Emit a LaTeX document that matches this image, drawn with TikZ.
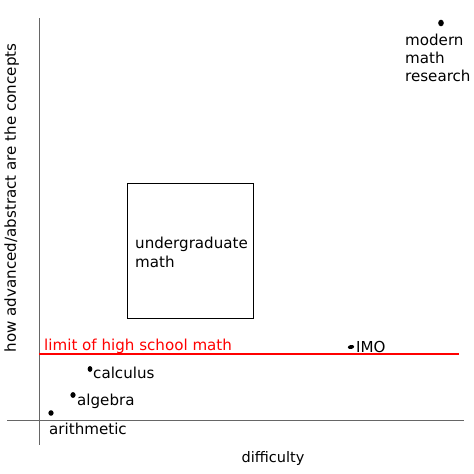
\documentclass[tikz,border=0pt]{standalone}
\usepackage{fontspec}
\setmainfont{DejaVu Sans}
\begin{document}
\begin{tikzpicture}[x=1pt,y=-1pt,
  lbl/.style={inner sep=0pt,anchor=base west,font=\fontsize{15.1}{18}\selectfont},
  axis/.style={draw=gray!80!black,line width=0.9pt}]
\useasboundingbox[fill=white] (0,0) rectangle (474,474);
% axes
\coordinate (yt) at (39,18);
\coordinate (yb) at (39,445);
\coordinate (xl) at (7,420);
\coordinate (xr) at (464,420);
\draw[axis] (yt) -- (yb);
\draw[axis] (xl) -- (xr);
% red limit line
\coordinate (rl) at (39,354);
\coordinate (rr) at (459,354);
\draw[red,line width=2.2pt] (rl) -- (rr);
\node[lbl,text=red] (lim) at (44,350) {limit of high school math};
% box
\node[draw,line width=0.9pt,minimum width=126pt,minimum height=135pt,inner sep=0pt] (ug) at (190,250.5) {};
\node[lbl] (ugt) at (135,248) {undergraduate};
\node[lbl] (ugt2) at (135,267) {math};
% dots
\fill (51,413) ellipse (2.6 and 2.8);
\fill (73,395) ellipse (2.6 and 2.9);
\fill (90,369) ellipse (2.4 and 3);
\fill[rotate around={10:(351,347)}] (351,347) ellipse (3.2 and 2);
\fill (441,23) ellipse (2.8 and 3.3);
% labels
\node[lbl] (ar) at (49,434) {arithmetic};
\node[lbl] (al) at (77,405) {algebra};
\node[lbl] (ca) at (93,378) {calculus};
\node[lbl] (imo) at (356,352) {IMO};
\node[lbl] (m1) at (405,45) {modern};
\node[lbl] (m2) at (405,63) {math};
\node[lbl] (m3) at (405,81) {research};
\node[lbl,anchor=base,font=\fontsize{14.5}{18}\selectfont] (dif) at (273,462) {difficulty};
\node[lbl,anchor=base,rotate=90] (how) at (16,198) {how advanced/abstract are the concepts};
\end{tikzpicture}
\end{document}
